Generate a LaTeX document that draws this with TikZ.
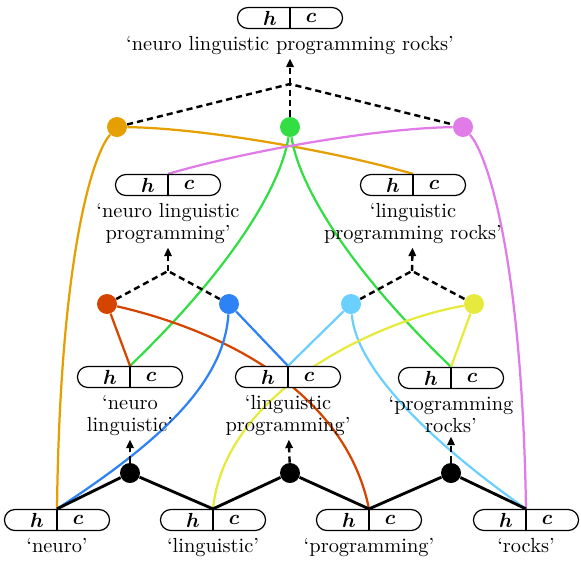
\documentclass[tikz,border=0pt]{standalone}
\usepackage{amssymb}
\usepackage{amsmath}
\usetikzlibrary{shapes}
\usetikzlibrary{positioning}
\usetikzlibrary{backgrounds}
\usetikzlibrary{arrows.meta}

\definecolor{corange}{HTML}{E69F00}
\definecolor{cgreen}{HTML}{33DD44}
\definecolor{cpink}{HTML}{E07BE8}
\definecolor{cred}{HTML}{D54400}
\definecolor{cblue}{HTML}{2D82F5}
\definecolor{clight}{HTML}{6CD0FF}
\definecolor{cyellow}{HTML}{E6EA3C}

\begin{document}
\begin{tikzpicture}[>={Stealth[length=4.2pt, width=3.6pt, inset=0pt]}, x=0.49pt, y=-0.49pt,
    cell/.style={rounded rectangle, draw, fill=white, line width=.6pt, minimum width=51.5pt, minimum height=10.3pt, inner sep=0pt},
    dot/.style={circle, fill=#1, inner sep=0pt, minimum size=9.8pt},
    txt/.style={align=center, inner sep=0pt, font=\fontsize{10}{10.8}\selectfont},
    cline/.style={draw=#1, line width=1.1pt},
    bline/.style={line width=1.4pt},
    dline/.style={line width=1.2pt, dash pattern=on 3pt off 2pt}]
    \useasboundingbox (0,0) rectangle (581,566);
    % cells
    \foreach \n/\x/\y in {w1/57/520, w2/213/520, w3/369/520, w4/526/520, p1/130/377, p2/288/377, p3/451/378, q1/168/185, q2/413/185, s/290/18}
    {\node[cell](\n) at (\x,\y) {};
    \draw[line width=.6pt] (\n.north) -- (\n.south);
    \node(\n h) at ([xshift=-9.8pt]\n.center) {$\boldsymbol{h}$};
    \node(\n c) at ([xshift=10.3pt]\n.center) {$\boldsymbol{c}$};}
    \foreach \n/\t in {w1/{‘neuro’}, w2/{‘linguistic’}, w3/{‘programming’}, w4/{‘rocks’}, p1/{‘neuro\\linguistic’}, p2/{‘linguistic\\programming’}, p3/{‘programming\\rocks’}, q1/{‘neuro linguistic\\programming’}, q2/{‘linguistic\\programming rocks’}, s/{‘neuro linguistic programming rocks’}}
    {\node[txt, below=3.5pt of \n](\n t) {\t};}
    % dots
    \foreach \n/\x/\y/\c in {b1/130/473/black, b2/290/473/black, b3/451/473/black, r/107/304/cred, u/229/304/cblue, l/351/304/clight, y/474/304/cyellow, o/117/127/corange, g/290/127/cgreen, m/463/127/cpink}
    {\node[dot=\c](\n) at (\x,\y) {};}
    \coordinate (a1) at (168,271);
    \coordinate (a2) at (412,271);
    \coordinate (a3) at (290,84);
    \begin{pgfonlayer}{background}
    \draw[cline=corange] (o) .. controls (92,155) and (60,260) .. (w1.north);
    \draw[cline=corange] (o) .. controls (200,128) and (330,150) .. (q2.north);
    \draw[cline=cgreen] (g) .. controls (282,180) and (240,260) .. (p1.north);
    \draw[cline=cgreen] (g) .. controls (298,180) and (340,260) .. (p3.north);
    \draw[cline=cpink] (m) .. controls (380,128) and (250,150) .. (q1.north);
    \draw[cline=cpink] (m) .. controls (488,155) and (522,260) .. (w4.north);
    \draw[cline=cred] (r) -- (p1.north);
    \draw[cline=cred] (r) .. controls (220,330) and (345,390) .. (w3.north);
    \draw[cline=cblue] (u) .. controls (224,385) and (155,445) .. (w1.north);
    \draw[cline=cblue] (u) -- (p2.north);
    \draw[cline=clight] (l) -- (p2.north);
    \draw[cline=clight] (l) .. controls (356,370) and (435,445) .. (w4.north);
    \draw[cline=cyellow] (y) -- (p3.north);
    \draw[cline=cyellow] (y) .. controls (380,320) and (225,390) .. (w2.north);
    \draw[bline] (w1.north) -- (b1) -- (w2.north) -- (b2) -- (w3.north) -- (b3) -- (w4.north);
    \draw[dline] (r) -- (a1) -- (u);
    \draw[dline] (l) -- (a2) -- (y);
    \draw[dline] (o) -- (a3) -- (m);
    \draw[dline] (g) -- (a3);
    \foreach \f/\t in {b1/p1t, b2/p2t, b3/p3t, a1/q1t, a2/q2t, a3/st}
    {\draw[dline, ->, shorten >=1.5pt] (\f) -- (\t);}
    \end{pgfonlayer}
\end{tikzpicture}
\end{document}
